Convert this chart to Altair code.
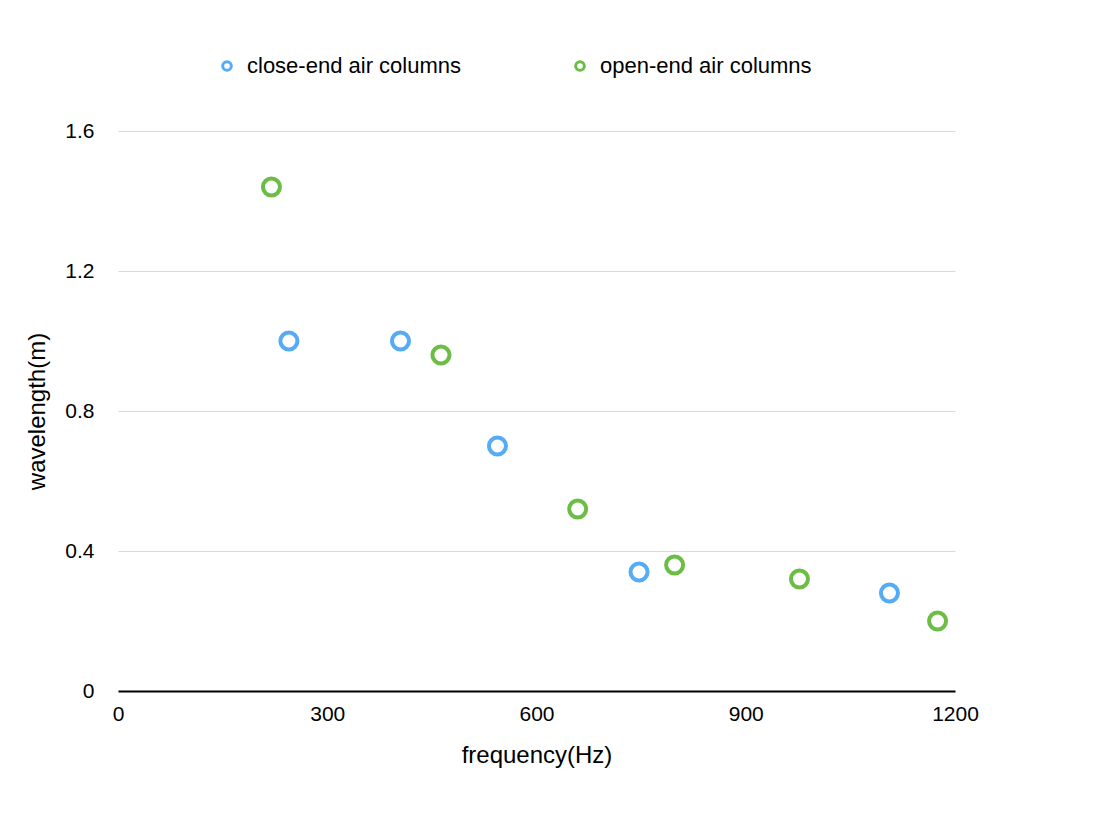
import altair as alt
import pandas as pd

series_names = ["close-end air columns", "open-end air columns"]
colors = ["#56abf6", "#6cbd45"]

close_freq = [245, 405, 544, 747, 1106]
close_wave = [1.0, 1.0, 0.7, 0.34, 0.28]

open_freq = [220, 463, 659, 798, 977, 1175]
open_wave = [1.44, 0.96, 0.52, 0.36, 0.32, 0.2]

x_ticks = [0, 300, 600, 900, 1200]
y_ticks = [0, 0.4, 0.8, 1.2, 1.6]

rows = []
for f, w in zip(close_freq, close_wave):
    rows.append({"frequency": f, "wavelength": w, "series": series_names[0]})
for f, w in zip(open_freq, open_wave):
    rows.append({"frequency": f, "wavelength": w, "series": series_names[1]})
df = pd.DataFrame(rows)

FONT = "Liberation Sans"

chart = alt.Chart(df).mark_point(
    shape="circle", filled=False, strokeWidth=4, size=290, opacity=1
).encode(
    x=alt.X("frequency:Q",
            scale=alt.Scale(domain=[0, 1200], nice=False, zero=True),
            axis=alt.Axis(values=x_ticks, title="frequency(Hz)", domain=True,
                          format="d", labelFlush=False,
                          domainColor="#000000", domainWidth=2, ticks=False,
                          grid=False, labelPadding=12, labelFontSize=21,
                          labelColor="#000000", labelFont=FONT,
                          titleFont=FONT, titleFontSize=24, titleFontWeight="normal",
                          titleColor="#000000", titleX=418.5, titleY=64,
                          titleBaseline="middle", titleAlign="center")),
    y=alt.Y("wavelength:Q",
            scale=alt.Scale(domain=[0, 1.6], nice=False),
            axis=alt.Axis(values=y_ticks, title="wavelength(m)", domain=False,
                          ticks=False, grid=True, gridColor="#d9d9d9", gridWidth=1,
                          labelPadding=24, labelFontSize=21, labelColor="#000000",
                          labelFont=FONT,
                          labelExpr="datum.value == 0 ? '0' : format(datum.value, '.1f')",
                          titleFont=FONT, titleFontSize=24, titleFontWeight="normal",
                          titleColor="#000000", titleX=-81, titleY=280,
                          titleAngle=-90, titleBaseline="middle", titleAlign="center")),
    color=alt.Color("series:N",
                    scale=alt.Scale(domain=series_names, range=colors),
                    legend=alt.Legend(title=None, orient="none", legendX=98, legendY=-76,
                                      direction="horizontal", columns=2,
                                      columnPadding=108, padding=0,
                                      symbolType="circle", symbolSize=75,
                                      symbolStrokeWidth=3, symbolFillColor="#ffffff",
                                      labelFont=FONT, labelFontSize=22,
                                      labelColor="#000000", labelOffset=9,
                                      labelLimit=400)),
).properties(
    width=837, height=560,
    autosize=alt.AutoSizeParams(type="none"),
    padding={"left": 110, "top": 123, "right": 137, "bottom": 115},
).configure_view(stroke=None)

chart.save("out.html", embed_options={"renderer": "svg", "actions": False})
